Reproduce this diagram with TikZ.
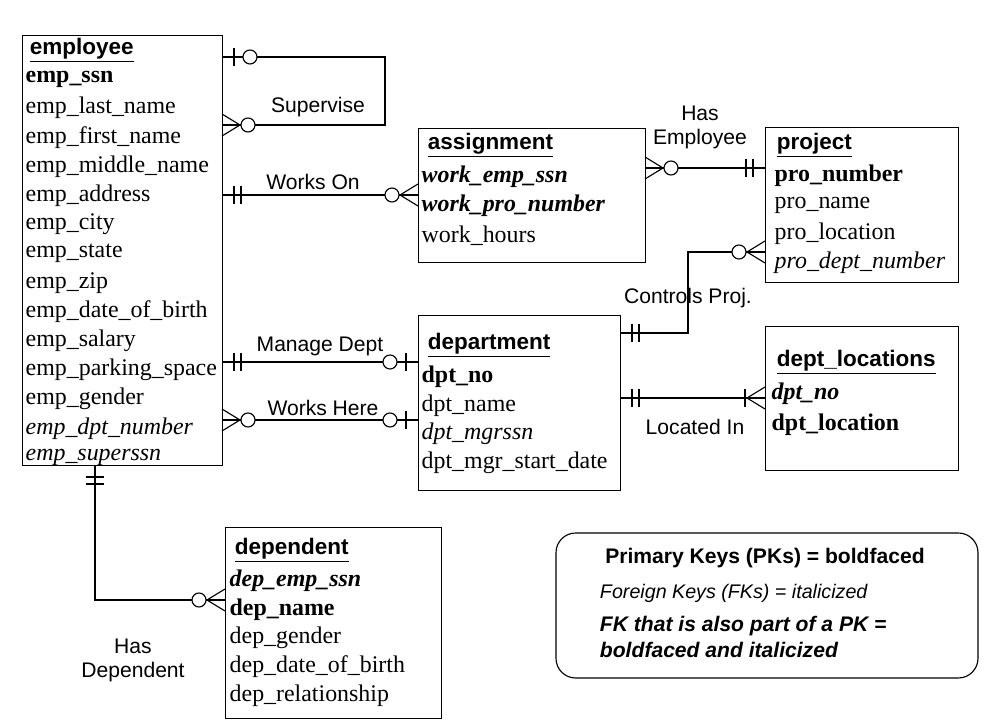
\documentclass[tikz,border=0pt]{standalone}
\usepackage{fontspec}
\setmainfont{Liberation Serif}
\newfontfamily\lab{Liberation Sans}
\usetikzlibrary{positioning}

\tikzset{
    entity/.style={draw, thick, fill=white, anchor=north west, inner sep=0pt},
    title/.style={anchor=west, font=\lab\bfseries\fontsize{16}{18}\selectfont},
    attr/.style={anchor=west, inner sep=1pt, font=\fontsize{17}{19}\selectfont},
    rel/.style={font=\lab\fontsize{15}{17}\selectfont, align=center},
    conn/.style={thick},
    cmark/.style={thick},
    zeroone/.pic={\draw[cmark] (12,-9) -- (12,9);
        \draw[cmark, fill=white] (28,0) circle[radius=7];},
    onlyone/.pic={\draw[cmark] (12,-9) -- (12,9);
        \draw[cmark] (19,-9) -- (19,9);},
    zeromany/.pic={\draw[cmark] (0,-11) -- (18,0) -- (0,11);
        \draw[cmark, fill=white] (26,0) circle[radius=7];},
    onemany/.pic={\draw[cmark] (0,-11) -- (18,0) -- (0,11);
        \draw[cmark] (20,-9) -- (20,9);}
}

\begin{document}
\begin{tikzpicture}[x=0.025cm, y=-0.025cm]
    \useasboundingbox (0,0) rectangle (1008,720);

    % employee
    \node[entity, minimum width=200*0.025cm, minimum height=430*0.025cm] (emp) at (22,35) {};
    \node[title] (empt) at (25,50) {\underline{employee}};
    \foreach \t [count=\i] in {\textbf{emp\_ssn}, emp\_last\_name, emp\_first\_name,
        emp\_middle\_name, emp\_address, emp\_city, emp\_state, emp\_zip,
        emp\_date\_of\_birth, emp\_salary, emp\_parking\_space, emp\_gender,
        \textit{emp\_dpt\_number}, \textit{emp\_superssn}}
        \node[attr] at (24,50+29.1*\i) {\t};

    % assignment
    \node[entity, minimum width=227*0.025cm, minimum height=134*0.025cm] (asg) at (418,128) {};
    \node[title] at (423,145) {\underline{assignment}};
    \foreach \t [count=\i] in {\textbf{\textit{work\_emp\_ssn}},
        \textbf{\textit{work\_pro\_number}}, work\_hours}
        \node[attr] at (420,147+29.5*\i) {\t};

    % project
    \node[entity, minimum width=193*0.025cm, minimum height=155*0.025cm] (proj) at (765,127) {};
    \node[title] at (772,145) {\underline{project}};
    \foreach \t [count=\i] in {\textbf{pro\_number}, pro\_name, pro\_location,
        \textit{pro\_dept\_number}}
        \node[attr] at (773,147+29*\i) {\t};

    % department
    \node[entity, minimum width=202*0.025cm, minimum height=175*0.025cm] (dept) at (418,315) {};
    \node[title] at (423,345) {\underline{department}};
    \foreach \t [count=\i] in {\textbf{dpt\_no}, dpt\_name, \textit{dpt\_mgrssn},
        dpt\_mgr\_start\_date}
        \node[attr] at (420,348+28.7*\i) {\t};

    % dept_locations
    \node[entity, minimum width=193*0.025cm, minimum height=144*0.025cm] (loc) at (765,326) {};
    \node[title] at (772,362) {\underline{dept\_locations}};
    \foreach \t [count=\i] in {\textbf{\textit{dpt\_no}}, \textbf{dpt\_location}}
        \node[attr] at (770,362+31.5*\i) {\t};

    % dependent
    \node[entity, minimum width=216*0.025cm, minimum height=191*0.025cm] (dep) at (225,527) {};
    \node[title] at (230,550) {\underline{dependent}};
    \foreach \t [count=\i] in {\textbf{\textit{dep\_emp\_ssn}}, \textbf{dep\_name},
        dep\_gender, dep\_date\_of\_birth, dep\_relationship}
        \node[attr] at (228,552+28.7*\i) {\t};

    % connector ends
    \coordinate (supA) at (222,57);
    \coordinate (supB) at (222,125);
    \coordinate (wo1) at (222,195);
    \coordinate (wo2) at (418,195);
    \coordinate (he1) at (645,168);
    \coordinate (he2) at (765,168);
    \coordinate (cp1) at (620,333);
    \coordinate (cp2) at (765,252);
    \coordinate (md1) at (222,362);
    \coordinate (md2) at (418,362);
    \coordinate (wh1) at (222,420);
    \coordinate (wh2) at (418,420);
    \coordinate (li1) at (620,398);
    \coordinate (li2) at (765,398);
    \coordinate (hd1) at (95,465);
    \coordinate (hd2) at (225,600);

    \draw[conn] (supA) -- (385,57) -- (385,125) -- (supB);
    \draw[conn] (wo1) -- (wo2);
    \draw[conn] (he1) -- (he2);
    \draw[conn] (cp1) -- (688,333) -- (688,252) -- (cp2);
    \draw[conn] (md1) -- (md2);
    \draw[conn] (wh1) -- (wh2);
    \draw[conn] (li1) -- (li2);
    \draw[conn] (hd1) -- (95,600) -- (hd2);

    \pic at (supA) {zeroone};
    \pic at (supB) {zeromany};
    \pic at (wo1) {onlyone};
    \pic[rotate=180] at (wo2) {zeromany};
    \pic at (he1) {zeromany};
    \pic[rotate=180] at (he2) {onlyone};
    \pic at (cp1) {onlyone};
    \pic[rotate=180] at (cp2) {zeromany};
    \pic at (md1) {onlyone};
    \pic[rotate=180] at (md2) {zeroone};
    \pic at (wh1) {zeromany};
    \pic[rotate=180] at (wh2) {zeroone};
    \pic at (li1) {onlyone};
    \pic[rotate=180] at (li2) {onemany};
    \pic[rotate=-90] at (hd1) {onlyone};
    \pic[rotate=180] at (hd2) {zeromany};

    % relationship labels
    \node[rel] (lsup) at (318,107) {Supervise};
    \node[rel] (lwo) at (313,182) {Works On};
    \node[rel] (lhe) at (700,127) {Has\\Employee};
    \node[rel] (lcp) at (688,298) {Controls Proj.};
    \node[rel] (lmd) at (320,346) {Manage Dept};
    \node[rel] (lwh) at (323,408) {Works Here};
    \node[rel] (lli) at (695,427) {Located In};
    \node[rel] (lhd) at (133,660) {Has\\Dependent};

    % legend
    \draw[thick, rounded corners=14] (556,533) rectangle (978,678);
    \node[font=\lab\bfseries\fontsize{15}{17}\selectfont] (k1) at (765,558) {Primary Keys (PKs) = boldfaced};
    \node[anchor=west, font=\lab\itshape\fontsize{14}{16}\selectfont] (k2) at (595,593) {Foreign Keys (FKs) = italicized};
    \node[anchor=west, font=\lab\bfseries\itshape\fontsize{15}{17}\selectfont] (k3) at (595,626) {FK that is also part of a PK =};
    \node[anchor=west, font=\lab\bfseries\itshape\fontsize{15}{17}\selectfont] (k4) at (595,650) {boldfaced and italicized};
\end{tikzpicture}
\end{document}
